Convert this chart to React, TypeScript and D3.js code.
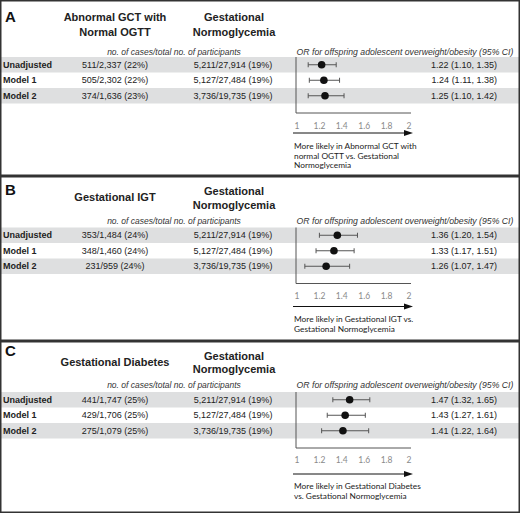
import React from "react";
import * as d3 from "d3";

// rows shared by every panel
const rowLabels = ["Unadjusted", "Model 1", "Model 2"];
const normoCounts = ["5,211/27,914 (19%)", "5,127/27,484 (19%)", "3,736/19,735 (19%)"];
const orTicks = [1, 1.2, 1.4, 1.6, 1.8, 2];

// panel A: abnormal GCT with normal OGTT
const gctCounts = ["511/2,337 (22%)", "505/2,302 (22%)", "374/1,636 (23%)"];
const gctOr = [1.22, 1.24, 1.25];
const gctLo = [1.1, 1.11, 1.1];
const gctHi = [1.35, 1.38, 1.42];

// panel B: gestational IGT
const igtCounts = ["353/1,484 (24%)", "348/1,460 (24%)", "231/959 (24%)"];
const igtOr = [1.36, 1.33, 1.26];
const igtLo = [1.2, 1.17, 1.07];
const igtHi = [1.54, 1.51, 1.47];

// panel C: gestational diabetes
const gdmCounts = ["441/1,747 (25%)", "429/1,706 (25%)", "275/1,079 (25%)"];
const gdmOr = [1.47, 1.43, 1.41];
const gdmLo = [1.32, 1.27, 1.22];
const gdmHi = [1.65, 1.61, 1.64];

const W = 520;
const H = 514;
const ARIAL = "'Liberation Sans', Arial, sans-serif";
const CALIBRI = "Lato, 'Open Sans', sans-serif";
const ROW_H = 15.5;

type Panel = {
  letter: string;
  top: number;
  bottom: number;
  rowsTop: number;
  letterY: number;
  groupTitle: string[];
  groupTitleY: number[];
  refTitleY: number[];
  subtitleY: number;
  tickY: number;
  arrowY: number;
  note: string[];
  noteY: number[];
  counts: string[];
  or: number[];
  lo: number[];
  hi: number[];
};

const panels: Panel[] = [
  {
    letter: "A", top: 0, bottom: 176, rowsTop: 57, letterY: 16,
    groupTitle: ["Abnormal GCT with", "Normal OGTT"], groupTitleY: [17, 32],
    refTitleY: [17, 32], subtitleY: 52, tickY: 126, arrowY: 133,
    note: ["More likely in Abnormal GCT with", "normal OGTT vs. Gestational", "Normoglycemia"],
    noteY: [146, 155.5, 165],
    counts: gctCounts, or: gctOr, lo: gctLo, hi: gctHi,
  },
  {
    letter: "B", top: 176, bottom: 341, rowsTop: 227.5, letterY: 189,
    groupTitle: ["Gestational IGT"], groupTitleY: [197],
    refTitleY: [191, 204.5], subtitleY: 221, tickY: 296, arrowY: 306.5,
    note: ["More likely in Gestational IGT vs.", "Gestational Normoglycemia"],
    noteY: [319, 329],
    counts: igtCounts, or: igtOr, lo: igtLo, hi: igtHi,
  },
  {
    letter: "C", top: 341, bottom: 513, rowsTop: 392, letterY: 350,
    groupTitle: ["Gestational Diabetes"], groupTitleY: [362],
    refTitleY: [355.5, 369], subtitleY: 385, tickY: 460, arrowY: 474,
    note: ["More likely in Gestational Diabetes", "vs. Gestational Normoglycemia"],
    noteY: [486, 496],
    counts: gdmCounts, or: gdmOr, lo: gdmLo, hi: gdmHi,
  },
];

const x = d3.scaleLinear().domain([1, 2]).range([297, 409]);

function ForestPanel({ p }: { p: Panel }) {
  const y = d3
    .scaleBand()
    .domain(rowLabels)
    .range([p.rowsTop, p.rowsTop + ROW_H * rowLabels.length]);
  const axisBottom = p.rowsTop + 56;
  const fmt = d3.format(".2f");

  return (
    <g>
      {/* shaded rows */}
      {rowLabels.map((r, i) =>
        i % 2 === 0 ? (
          <rect key={r} x={1} y={y(r)} width={W - 2} height={y.bandwidth()} fill="#dedfe0" />
        ) : null
      )}

      <text x={5} y={p.letterY} dominantBaseline="central" fontFamily={ARIAL} fontWeight="bold" fontSize={15} fill="#111">
        {p.letter}
      </text>

      {p.groupTitle.map((t, i) => (
        <text key={t} x={115} y={p.groupTitleY[i]} textAnchor="middle" dominantBaseline="central" fontFamily={ARIAL} fontWeight="bold" fontSize={11} fill="#222">
          {t}
        </text>
      ))}
      {["Gestational", "Normoglycemia"].map((t, i) => (
        <text key={t} x={234} y={p.refTitleY[i]} textAnchor="middle" dominantBaseline="central" fontFamily={ARIAL} fontWeight="bold" fontSize={11} fill="#222">
          {t}
        </text>
      ))}

      <text x={174} y={p.subtitleY} textAnchor="middle" dominantBaseline="central" fontFamily={ARIAL} fontStyle="italic" fontSize={8.5} fill="#333">
        no. of cases/total no. of participants
      </text>
      <text x={405} y={p.subtitleY} textAnchor="middle" dominantBaseline="central" fontFamily={ARIAL} fontStyle="italic" fontSize={8.7} fill="#333">
        OR for offspring adolescent overweight/obesity (95% CI)
      </text>

      {rowLabels.map((r, i) => {
        const cy = y(r)! + y.bandwidth() / 2;
        return (
          <g key={r} fontFamily={ARIAL} fontSize={9} fill="#222">
            <text x={3} y={cy} dominantBaseline="central" fontWeight="bold">{r}</text>
            <text x={115} y={cy} textAnchor="middle" dominantBaseline="central">{p.counts[i]}</text>
            <text x={233} y={cy} textAnchor="middle" dominantBaseline="central">{normoCounts[i]}</text>
            <text x={497} y={cy} textAnchor="end" dominantBaseline="central">
              {`${fmt(p.or[i])} (${fmt(p.lo[i])}, ${fmt(p.hi[i])})`}
            </text>
            <line x1={x(p.lo[i])} x2={x(p.hi[i])} y1={cy} y2={cy} stroke="#555" strokeWidth={1} />
            <line x1={x(p.lo[i])} x2={x(p.lo[i])} y1={cy - 2.5} y2={cy + 2.5} stroke="#555" strokeWidth={1} />
            <line x1={x(p.hi[i])} x2={x(p.hi[i])} y1={cy - 2.5} y2={cy + 2.5} stroke="#555" strokeWidth={1} />
            <circle cx={x(p.or[i])} cy={cy} r={3.8} fill="#111" />
          </g>
        );
      })}

      {/* axis frame */}
      <path
        d={`M${x(1) - 1},${p.rowsTop} V${axisBottom} H${x(2) + 2}`}
        fill="none"
        stroke="#555"
        strokeWidth={1}
      />
      {orTicks.map((t) => (
        <text key={t} x={x(t)} y={p.tickY} textAnchor="middle" dominantBaseline="central" fontFamily={CALIBRI} fontSize={8.5} fill="#8a8a8a">
          {String(t)}
        </text>
      ))}

      {/* arrow */}
      <line x1={293} x2={406} y1={p.arrowY} y2={p.arrowY} stroke="#111" strokeWidth={1} />
      <path d={`M404,${p.arrowY - 3} L413,${p.arrowY} L404,${p.arrowY + 3} Z`} fill="#111" />

      {p.note.map((t, i) => (
        <text key={t} x={294} y={p.noteY[i]} dominantBaseline="central" fontFamily={CALIBRI} fontSize={8.3} fill="#222">
          {t}
        </text>
      ))}

      <rect x={0.75} y={p.top + 0.75} width={W - 1.5} height={p.bottom - p.top - 1.5} fill="none" stroke="#333" strokeWidth={1.5} />
    </g>
  );
}

export default function App() {
  return (
    <svg
      width={W}
      height={H}
      viewBox={`0 0 ${W} ${H}`}
      style={{ position: "absolute", left: 0, top: 0, background: "#fff" }}
    >
      <rect width={W} height={H} fill="#fff" />
      {panels.map((p) => (
        <ForestPanel key={p.letter} p={p} />
      ))}
    </svg>
  );
}
